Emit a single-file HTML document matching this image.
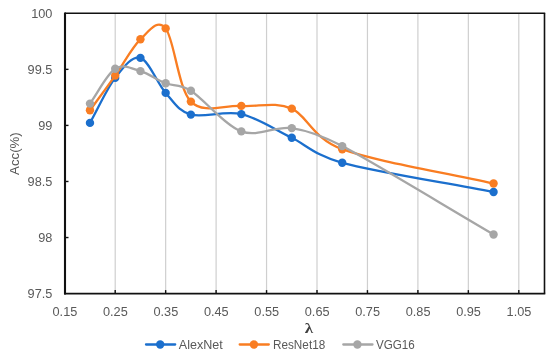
<!DOCTYPE html>
<html><head><meta charset="utf-8"><title>Acc vs lambda</title>
<style>html,body{margin:0;padding:0;background:#fff}svg{display:block}text{font-family:"Liberation Sans",sans-serif;fill:#595959}</style></head><body>
<svg width="550" height="355" viewBox="0 0 550 355">
<rect width="550" height="355" fill="#fff"/>
<g stroke="#cfcfcf" stroke-width="1.2"><line x1="115.20" y1="13.30" x2="115.20" y2="293.60"/><line x1="165.65" y1="13.30" x2="165.65" y2="293.60"/><line x1="216.10" y1="13.30" x2="216.10" y2="293.60"/><line x1="266.55" y1="13.30" x2="266.55" y2="293.60"/><line x1="317.00" y1="13.30" x2="317.00" y2="293.60"/><line x1="367.45" y1="13.30" x2="367.45" y2="293.60"/><line x1="417.90" y1="13.30" x2="417.90" y2="293.60"/><line x1="468.35" y1="13.30" x2="468.35" y2="293.60"/><line x1="518.80" y1="13.30" x2="518.80" y2="293.60"/></g>
<path d="M89.98 122.90 C98.38 107.90 106.79 88.73 115.20 77.90 C123.61 67.07 132.02 55.40 140.43 57.90 C148.83 60.40 157.24 83.45 165.65 92.90 C174.06 102.35 178.26 111.07 190.88 114.60 C203.49 118.13 224.51 110.23 241.32 114.10 C258.14 117.97 274.96 129.68 291.77 137.80 C305.37 144.36 315.04 155.50 342.22 162.80 C375.86 171.83 443.12 182.27 493.57 192.00" fill="none" stroke="#1b6fcd" stroke-width="2.3" stroke-linecap="round" stroke-linejoin="round"/>
<g fill="#1b6fcd"><circle cx="89.98" cy="122.90" r="4.2"/><circle cx="115.20" cy="77.90" r="4.2"/><circle cx="140.43" cy="57.90" r="4.2"/><circle cx="165.65" cy="92.90" r="4.2"/><circle cx="190.88" cy="114.60" r="4.2"/><circle cx="241.32" cy="114.10" r="4.2"/><circle cx="291.77" cy="137.80" r="4.2"/><circle cx="342.22" cy="162.80" r="4.2"/><circle cx="493.57" cy="192.00" r="4.2"/></g>
<path d="M89.98 110.30 C98.38 98.73 106.79 87.43 115.20 75.60 C123.61 63.77 132.02 47.17 140.43 39.30 C148.83 31.43 157.24 18.02 165.65 28.40 C174.06 38.78 178.26 88.68 190.88 101.60 C203.49 114.52 224.51 104.73 241.32 105.90 C258.14 107.07 274.96 101.38 291.77 108.60 C306.95 115.11 311.87 137.93 342.22 149.20 C375.86 161.68 443.12 172.07 493.57 183.50" fill="none" stroke="#f97d22" stroke-width="2.3" stroke-linecap="round" stroke-linejoin="round"/>
<g fill="#f97d22"><circle cx="89.98" cy="110.30" r="4.2"/><circle cx="115.20" cy="75.60" r="4.2"/><circle cx="140.43" cy="39.30" r="4.2"/><circle cx="165.65" cy="28.40" r="4.2"/><circle cx="190.88" cy="101.60" r="4.2"/><circle cx="241.32" cy="105.90" r="4.2"/><circle cx="291.77" cy="108.60" r="4.2"/><circle cx="342.22" cy="149.20" r="4.2"/><circle cx="493.57" cy="183.50" r="4.2"/></g>
<path d="M89.98 103.60 C98.38 92.00 106.79 74.22 115.20 68.80 C123.61 63.38 132.02 68.68 140.43 71.10 C148.83 73.52 157.24 80.03 165.65 83.30 C173.05 86.17 179.78 83.65 190.88 90.70 C203.49 98.72 224.51 125.17 241.32 131.40 C258.14 137.63 274.96 125.65 291.77 128.10 C303.62 129.83 318.53 133.61 342.22 146.10 C375.86 163.83 443.12 205.03 493.57 234.50" fill="none" stroke="#a6a6a6" stroke-width="2.3" stroke-linecap="round" stroke-linejoin="round"/>
<g fill="#a6a6a6"><circle cx="89.98" cy="103.60" r="4.2"/><circle cx="115.20" cy="68.80" r="4.2"/><circle cx="140.43" cy="71.10" r="4.2"/><circle cx="165.65" cy="83.30" r="4.2"/><circle cx="190.88" cy="90.70" r="4.2"/><circle cx="241.32" cy="131.40" r="4.2"/><circle cx="291.77" cy="128.10" r="4.2"/><circle cx="342.22" cy="146.10" r="4.2"/><circle cx="493.57" cy="234.50" r="4.2"/></g>
<g stroke="#111" fill="none">
<line x1="65.00" y1="12.50" x2="65.00" y2="294.40" stroke-width="2.1"/>
<line x1="64.10" y1="293.60" x2="545.30" y2="293.60" stroke-width="1.8"/>
<line x1="65.00" y1="13.30" x2="545.20" y2="13.30" stroke-width="1.6"/>
<line x1="544.50" y1="13.30" x2="544.50" y2="293.60" stroke-width="1.6"/>
<g stroke-width="1.4"><line x1="115.20" y1="293.60" x2="115.20" y2="290.10"/><line x1="165.65" y1="293.60" x2="165.65" y2="290.10"/><line x1="216.10" y1="293.60" x2="216.10" y2="290.10"/><line x1="266.55" y1="293.60" x2="266.55" y2="290.10"/><line x1="317.00" y1="293.60" x2="317.00" y2="290.10"/><line x1="367.45" y1="293.60" x2="367.45" y2="290.10"/><line x1="417.90" y1="293.60" x2="417.90" y2="290.10"/><line x1="468.35" y1="293.60" x2="468.35" y2="290.10"/><line x1="518.80" y1="293.60" x2="518.80" y2="290.10"/><line x1="65.00" y1="69.36" x2="68.50" y2="69.36"/><line x1="65.00" y1="125.42" x2="68.50" y2="125.42"/><line x1="65.00" y1="181.48" x2="68.50" y2="181.48"/><line x1="65.00" y1="237.54" x2="68.50" y2="237.54"/></g>
</g>
<text x="31.16" y="17.90" font-size="11.9" textLength="21.24" lengthAdjust="spacingAndGlyphs">100</text>
<text x="27.62" y="73.96" font-size="11.9" textLength="24.78" lengthAdjust="spacingAndGlyphs">99.5</text>
<text x="38.24" y="130.02" font-size="11.9" textLength="14.16" lengthAdjust="spacingAndGlyphs">99</text>
<text x="27.62" y="186.08" font-size="11.9" textLength="24.78" lengthAdjust="spacingAndGlyphs">98.5</text>
<text x="38.24" y="242.14" font-size="11.9" textLength="14.16" lengthAdjust="spacingAndGlyphs">98</text>
<text x="27.62" y="298.20" font-size="11.9" textLength="24.78" lengthAdjust="spacingAndGlyphs">97.5</text>
<text x="52.56" y="316.2" font-size="11.9" textLength="24.78" lengthAdjust="spacingAndGlyphs">0.15</text>
<text x="103.01" y="316.2" font-size="11.9" textLength="24.78" lengthAdjust="spacingAndGlyphs">0.25</text>
<text x="153.46" y="316.2" font-size="11.9" textLength="24.78" lengthAdjust="spacingAndGlyphs">0.35</text>
<text x="203.91" y="316.2" font-size="11.9" textLength="24.78" lengthAdjust="spacingAndGlyphs">0.45</text>
<text x="254.36" y="316.2" font-size="11.9" textLength="24.78" lengthAdjust="spacingAndGlyphs">0.55</text>
<text x="304.81" y="316.2" font-size="11.9" textLength="24.78" lengthAdjust="spacingAndGlyphs">0.65</text>
<text x="355.26" y="316.2" font-size="11.9" textLength="24.78" lengthAdjust="spacingAndGlyphs">0.75</text>
<text x="405.71" y="316.2" font-size="11.9" textLength="24.78" lengthAdjust="spacingAndGlyphs">0.85</text>
<text x="456.16" y="316.2" font-size="11.9" textLength="24.78" lengthAdjust="spacingAndGlyphs">0.95</text>
<text x="506.61" y="316.2" font-size="11.9" textLength="24.78" lengthAdjust="spacingAndGlyphs">1.05</text>
<text transform="translate(18.6 153.6) rotate(-90)" font-size="12.7" text-anchor="middle" textLength="42.6" lengthAdjust="spacingAndGlyphs">Acc(%)</text>
<text x="308.9" y="333.0" font-size="15.4" textLength="8.4" lengthAdjust="spacingAndGlyphs" text-anchor="middle" style="font-family:'Liberation Serif',serif;font-weight:bold;fill:#404040">λ</text>
<line x1="146.0" y1="344.5" x2="175.2" y2="344.5" stroke="#1b6fcd" stroke-width="2.3" stroke-linecap="round"/>
<circle cx="160.2" cy="344.5" r="4.2" fill="#1b6fcd"/>
<text x="178.8" y="348.7" font-size="12.2" textLength="44.0" lengthAdjust="spacingAndGlyphs">AlexNet</text>
<line x1="239.7" y1="344.5" x2="268.8" y2="344.5" stroke="#f97d22" stroke-width="2.3" stroke-linecap="round"/>
<circle cx="253.9" cy="344.5" r="4.2" fill="#f97d22"/>
<text x="273.0" y="348.7" font-size="12.2" textLength="52.2" lengthAdjust="spacingAndGlyphs">ResNet18</text>
<line x1="343.3" y1="344.5" x2="372.5" y2="344.5" stroke="#a6a6a6" stroke-width="2.3" stroke-linecap="round"/>
<circle cx="357.4" cy="344.5" r="4.2" fill="#a6a6a6"/>
<text x="376.0" y="348.7" font-size="12.2" textLength="38.8" lengthAdjust="spacingAndGlyphs">VGG16</text>
</svg></body></html>
